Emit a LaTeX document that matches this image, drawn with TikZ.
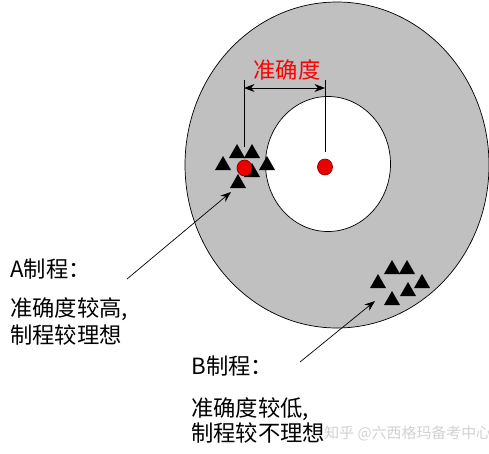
\documentclass[tikz,border=0pt]{standalone}
\usepackage{fontspec}
\setmainfont{Noto Sans CJK SC}
\usetikzlibrary{arrows.meta}

\definecolor{ringgray}{RGB}{192,192,192}
\definecolor{dotred}{RGB}{235,0,0}

\tikzset{
	label/.style={anchor=west, inner sep=0pt, font=\fontsize{12.7}{15}\selectfont},
	dot/.style={draw=red!55!black, fill=dotred, thin},
}
\newcommand{\tri}[2]{\fill (#1,#2) -- ++(-8,14) -- ++(16,0) -- cycle;}

\begin{document}
\begin{tikzpicture}[x=0.02cm, y=-0.02cm]
	\useasboundingbox (0,0) rectangle (489,453);

	\draw[fill=ringgray, thin] (337,165) ellipse (152 and 163);
	\draw[fill=white, thin] (328,164) ellipse (62.5 and 67.5);

	% A cluster
	\tri{237}{144}
	\tri{252}{144}
	\tri{223}{156}
	\tri{267}{156}
	\tri{252}{163}
	\tri{238}{174}
	\draw[dot] (244.5,168) ellipse (7.5 and 8);
	\draw[dot] (325,167) ellipse (7.5 and 8);

	% B cluster
	\tri{392}{260}
	\tri{407}{260}
	\tri{378}{274}
	\tri{422}{274}
	\tri{408}{282}
	\tri{392}{291}

	% dimension
	\draw (244,80) -- (244,147);
	\draw (325,80) -- (325,152);
	\draw[{Stealth[length=6pt]}-{Stealth[length=6pt]}] (244,88) -- (325,88);
	\node[text=red, font=\fontsize{12.7}{15}\selectfont] (acc) at (287,70) {准确度};

	% labels
	\node[label] (a1) at (10,269) {A制程：};
	\node[label] (a2) at (10,309) {准确度较高,};
	\node[label] (a3) at (10,335) {制程较理想};
	\node[label] (b1) at (191,366) {B制程：};
	\node[label] (b2) at (191,409) {准确度较低,};
	\node[label] (b3) at (191,433) {制程较不理想};
	\node[label, text=black!18, font=\fontsize{8.5}{10}\selectfont] (wm) at (324,433) {知乎 @六西格玛备考中心};

	% arrows
	\coordinate (atail) at (127,279);
	\coordinate (ahead) at (231,192);
	\coordinate (btail) at (300,362);
	\coordinate (bhead) at (375,301);
	\draw[-{Stealth[length=6pt]}] (atail) -- (ahead);
	\draw[-{Stealth[length=6pt]}] (btail) -- (bhead);
\end{tikzpicture}
\end{document}
